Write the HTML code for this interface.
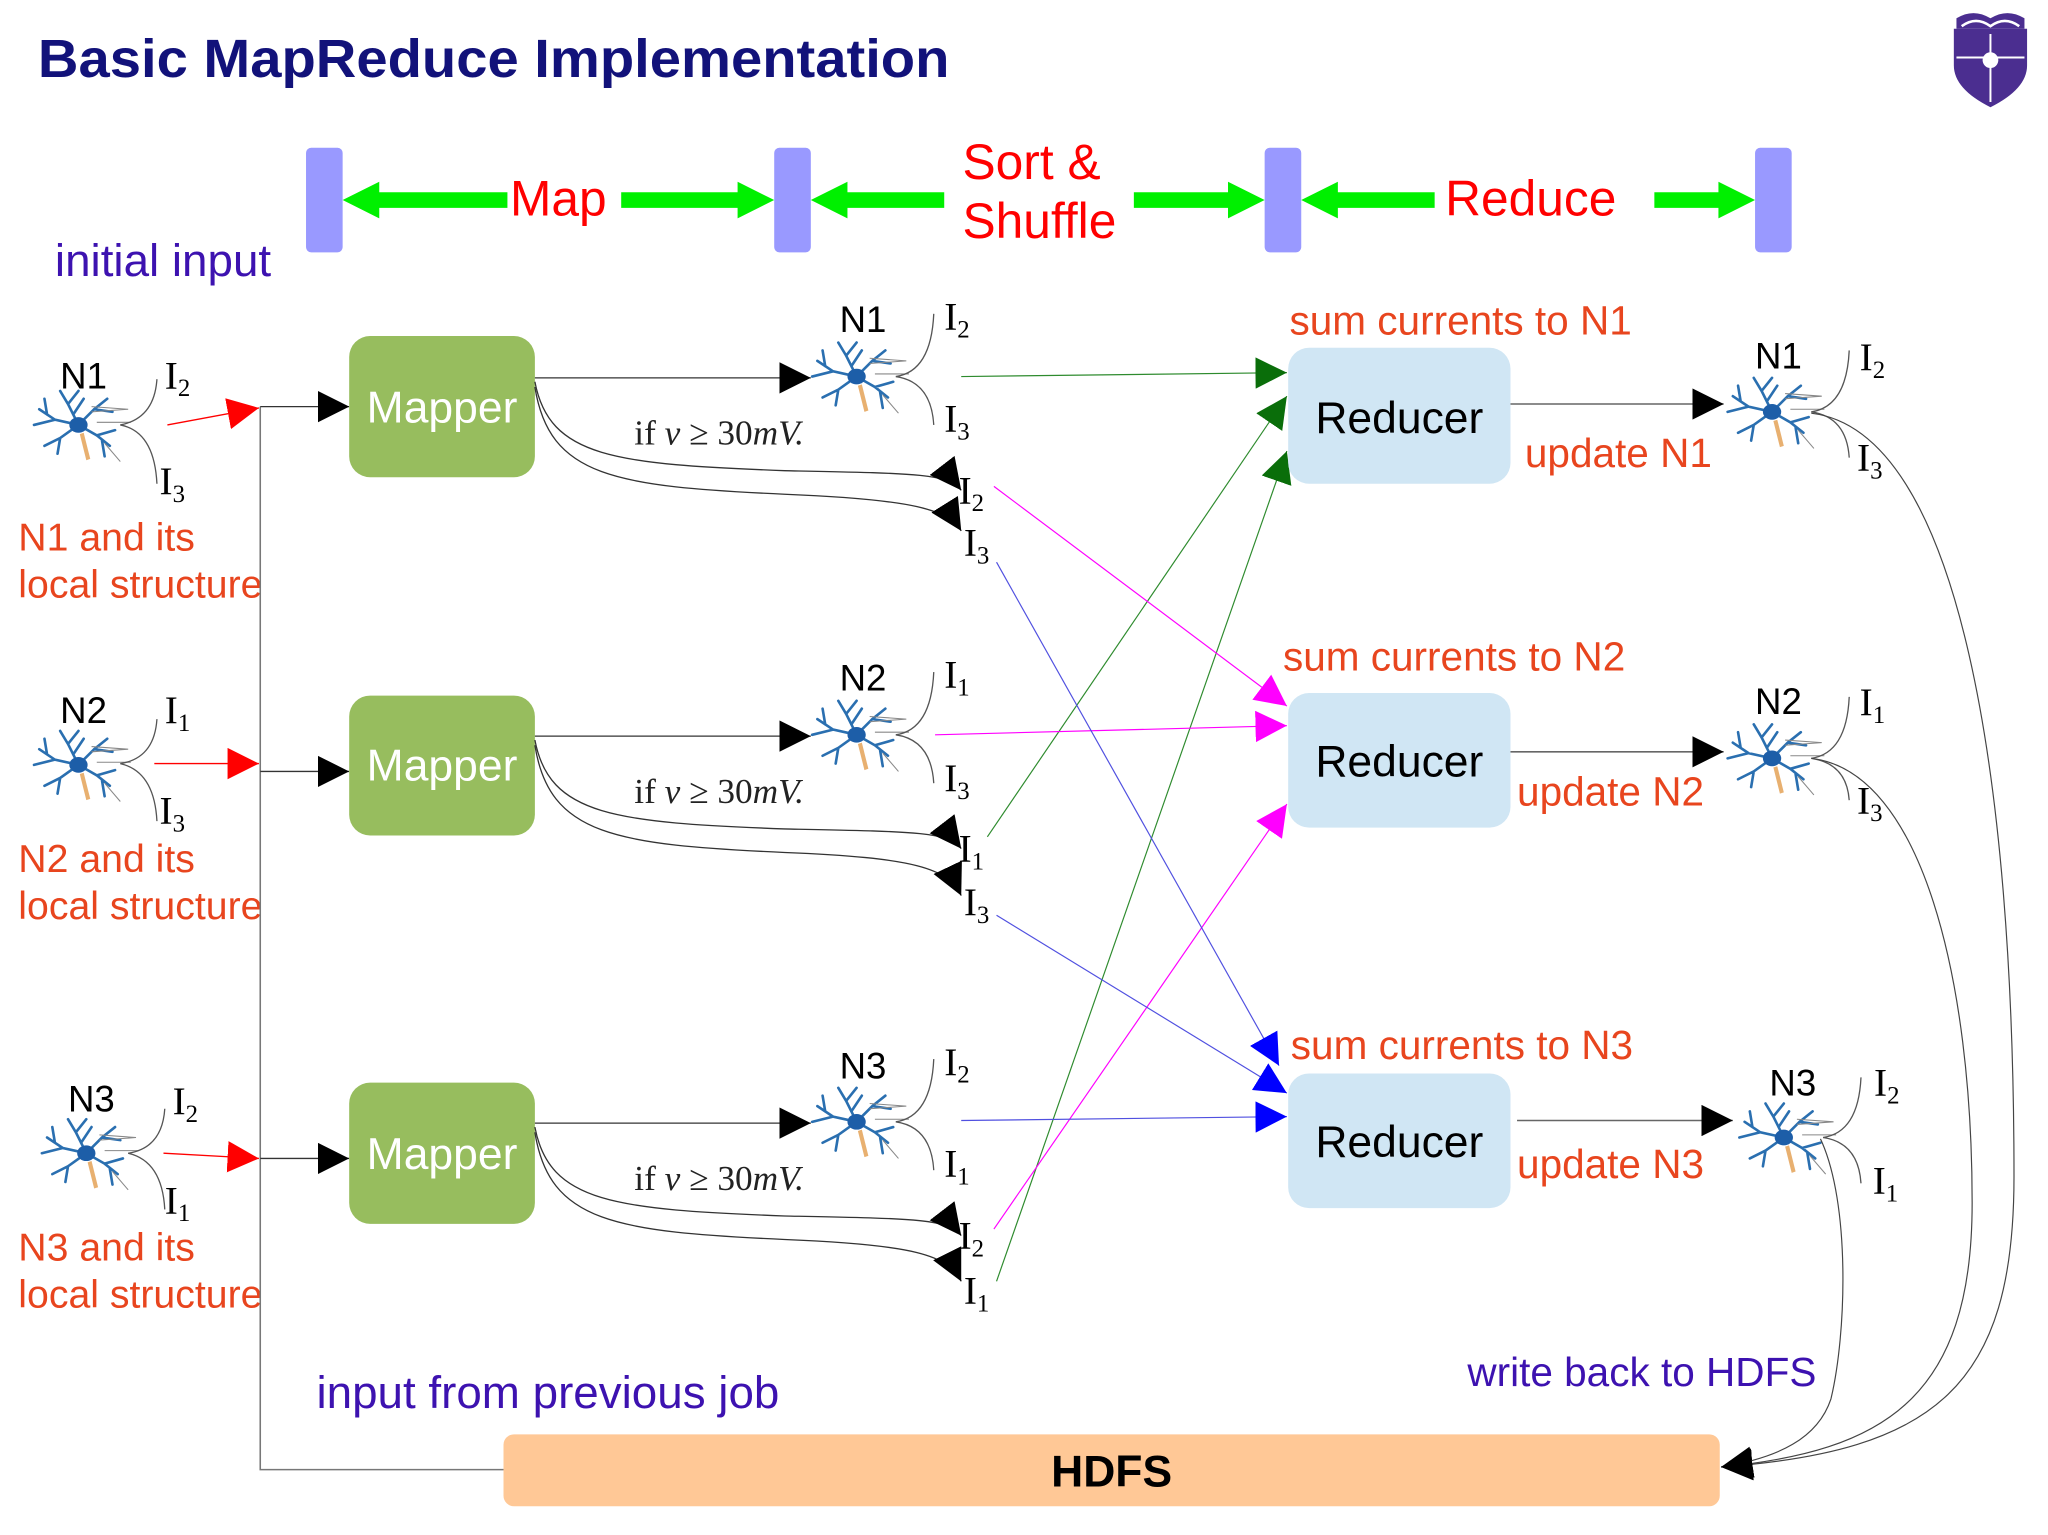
<!DOCTYPE html>
<html><head><meta charset="utf-8"><style>
html,body{margin:0;padding:0;background:#fff}
svg{display:block}
text{font-family:"Liberation Sans",sans-serif}
.ser text,text.ser{font-family:"Liberation Serif",serif}
</style></head><body>
<svg width="2048" height="1535" viewBox="0 0 1566 1174" preserveAspectRatio="none" xmlns="http://www.w3.org/2000/svg">
<defs>
<marker id="mk" viewBox="0 0 10 10" refX="10" refY="5" markerWidth="24" markerHeight="24" markerUnits="userSpaceOnUse" orient="auto"><path d="M0,0L10,5L0,10z" fill="#000"/></marker>
<marker id="mr" viewBox="0 0 10 10" refX="10" refY="5" markerWidth="24" markerHeight="24" markerUnits="userSpaceOnUse" orient="auto"><path d="M0,0L10,5L0,10z" fill="#f00"/></marker>
<marker id="mg" viewBox="0 0 10 10" refX="10" refY="5" markerWidth="24" markerHeight="24" markerUnits="userSpaceOnUse" orient="auto"><path d="M0,0L10,5L0,10z" fill="#0a6e0a"/></marker>
<marker id="mm" viewBox="0 0 10 10" refX="10" refY="5" markerWidth="24" markerHeight="24" markerUnits="userSpaceOnUse" orient="auto"><path d="M0,0L10,5L0,10z" fill="#f0f"/></marker>
<marker id="mb" viewBox="0 0 10 10" refX="10" refY="5" markerWidth="24" markerHeight="24" markerUnits="userSpaceOnUse" orient="auto"><path d="M0,0L10,5L0,10z" fill="#00f"/></marker>
<symbol id="neu" viewBox="-40 -30 80 60" overflow="visible">
<g stroke="#2a6fb0" stroke-width="2" fill="none" stroke-linecap="round">
<path d="M0,0 L-18,-4 L-30,-12 M-18,-4 L-34,0 M-24,-8 L-26,-20 M0,0 L-8,-16 L-14,-26 M-8,-16 L0,-26 M0,0 L12,-12 L22,-20 M12,-12 L26,-10 M0,0 L-14,10 L-26,16 M-14,10 L-16,22 M0,0 L14,8 L24,16 M14,8 L28,4 M18,12 L20,24 M-4,-8 L4,-20"/>
</g>
<g stroke="#888" stroke-width="0.8" fill="none"><path d="M10,-14 L38,-12 L10,-10 M14,-2 L40,-2 M20,14 L32,28"/></g>
<ellipse cx="0" cy="0" rx="7" ry="6" fill="#1d5ea8"/>
<path d="M4,6 L9,26 L6,27 L1,7z" fill="#e8b070"/>
</symbol>
</defs>

<text x="29" y="59" font-size="41" font-weight="bold" fill="#12127a" textLength="697" lengthAdjust="spacingAndGlyphs">Basic MapReduce Implementation</text>
<path d="M1494,22 L1550,22 L1550,50 Q1550,68 1522,82 Q1494,68 1494,50z" fill="#4b2e90"/>
<path d="M1496,14 Q1509,6 1522,14 Q1535,6 1548,14 L1548,22 L1496,22z" fill="#4b2e90"/>
<path d="M1500,20 Q1511,12 1522,20 Q1533,12 1544,20" stroke="#fff" stroke-width="2" fill="none"/>
<line x1="1496" y1="44" x2="1548" y2="44" stroke="#fff" stroke-width="1.5"/>
<line x1="1522" y1="26" x2="1522" y2="78" stroke="#fff" stroke-width="1.5"/>
<circle cx="1522" cy="46" r="6" fill="#fff"/>

<g fill="#9999ff">
<rect x="234" y="113" width="28" height="80" rx="4"/>
<rect x="592" y="113" width="28" height="80" rx="4"/>
<rect x="967" y="113" width="28" height="80" rx="4"/>
<rect x="1342" y="113" width="28" height="80" rx="4"/>
</g>
<g fill="#00f000">
<path d="M262,153 L290,139 L290,147 L388,147 L388,159 L290,159 L290,167z"/>
<path d="M592,153 L564,139 L564,147 L475,147 L475,159 L564,159 L564,167z"/>
<path d="M620,153 L648,139 L648,147 L722,147 L722,159 L648,159 L648,167z"/>
<path d="M967,153 L939,139 L939,147 L867,147 L867,159 L939,159 L939,167z"/>
<path d="M995,153 L1023,139 L1023,147 L1097,147 L1097,159 L1023,159 L1023,167z"/>
<path d="M1342,153 L1314,139 L1314,147 L1265,147 L1265,159 L1314,159 L1314,167z"/>
</g>
<g fill="#f00" font-size="38">
<text x="390" y="165">Map</text>
<text x="736" y="137">Sort &amp;</text>
<text x="736" y="182">Shuffle</text>
<text x="1105" y="165">Reduce</text>
</g>
<g fill="#3d12b0" font-size="35">
<text x="42" y="211">initial input</text>
<text x="242" y="1077">input from previous job</text>
<text x="1122" y="1060" font-size="31">write back to HDFS</text>
</g>

<use href="#neu" x="20" y="295" width="80" height="60"/>
<use href="#neu" x="20" y="555" width="80" height="60"/>
<use href="#neu" x="26" y="852" width="80" height="60"/>
<g font-size="28" fill="#000">
<text x="46" y="297">N1</text><text x="46" y="553">N2</text><text x="52" y="850">N3</text>
</g>
<g fill="none" stroke="#555" stroke-width="1">
<path d="M92,325 Q118,320 120,290"/><path d="M92,325 Q118,330 120,370"/>
<path d="M92,584 Q118,580 120,550"/><path d="M92,584 Q118,590 120,628"/>
<path d="M98,882 Q124,878 126,848"/><path d="M98,882 Q124,888 126,925"/>
</g>
<g class="ser" font-size="30" fill="#000">
<text x="126" y="297">I<tspan font-size="19" dy="6">2</tspan></text>
<text x="122" y="378">I<tspan font-size="19" dy="6">3</tspan></text>
<text x="126" y="553">I<tspan font-size="19" dy="6">1</tspan></text>
<text x="122" y="630">I<tspan font-size="19" dy="6">3</tspan></text>
<text x="132" y="852">I<tspan font-size="19" dy="6">2</tspan></text>
<text x="126" y="928">I<tspan font-size="19" dy="6">1</tspan></text>
</g>
<g fill="#e8451e" font-size="30">
<text x="14" y="421">N1 and its</text><text x="14" y="457">local structure</text>
<text x="14" y="667">N2 and its</text><text x="14" y="703">local structure</text>
<text x="14" y="964">N3 and its</text><text x="14" y="1000">local structure</text>
</g>
<g stroke="#f00" stroke-width="1">
<line x1="128" y1="325" x2="198" y2="312" marker-end="url(#mr)"/>
<line x1="118" y1="584" x2="198" y2="584" marker-end="url(#mr)"/>
<line x1="125" y1="882" x2="198" y2="886" marker-end="url(#mr)"/>
</g>
<path d="M199,311 L199,1124 L385,1124" stroke="#777" stroke-width="1.2" fill="none"/>
<g stroke="#333" stroke-width="1">
<line x1="199" y1="311" x2="267" y2="311" marker-end="url(#mk)"/>
<line x1="199" y1="590" x2="267" y2="590" marker-end="url(#mk)"/>
<line x1="199" y1="886" x2="267" y2="886" marker-end="url(#mk)"/>
</g>

<g fill="#97bd5e">
<rect x="267" y="257" width="142" height="108" rx="16"/>
<rect x="267" y="532" width="142" height="107" rx="16"/>
<rect x="267" y="828" width="142" height="108" rx="16"/>
</g>
<g fill="#fff" font-size="34" text-anchor="middle">
<text x="338" y="323">Mapper</text><text x="338" y="597">Mapper</text><text x="338" y="894">Mapper</text>
</g>

<g stroke="#333" stroke-width="1" fill="none">
<line x1="409" y1="289" x2="620" y2="289" marker-end="url(#mk)"/>
<path d="M409,292 C420,350 470,355 600,360 C700,362 725,362 735,375" marker-end="url(#mk)"/>
<path d="M409,296 C420,365 470,372 600,378 C700,382 725,390 735,406" marker-end="url(#mk)"/>
<line x1="409" y1="563" x2="620" y2="563" marker-end="url(#mk)"/>
<path d="M409,566 C420,624 470,629 600,634 C700,636 725,636 735,649" marker-end="url(#mk)"/>
<path d="M409,570 C420,639 470,646 600,652 C700,656 725,664 735,685" marker-end="url(#mk)"/>
<line x1="409" y1="859" x2="620" y2="859" marker-end="url(#mk)"/>
<path d="M409,862 C420,920 470,925 600,930 C700,932 725,932 735,945" marker-end="url(#mk)"/>
<path d="M409,866 C420,935 470,942 600,948 C700,952 725,960 735,980" marker-end="url(#mk)"/>
</g>
<g class="ser" font-size="27" fill="#222" font-style="italic">
<text x="485" y="340"><tspan font-style="normal">if</tspan> v ≥ <tspan font-style="normal">30</tspan>mV.</text>
<text x="485" y="614"><tspan font-style="normal">if</tspan> v ≥ <tspan font-style="normal">30</tspan>mV.</text>
<text x="485" y="910"><tspan font-style="normal">if</tspan> v ≥ <tspan font-style="normal">30</tspan>mV.</text>
</g>

<use href="#neu" x="615" y="258" width="80" height="60"/>
<use href="#neu" x="615" y="532" width="80" height="60"/>
<use href="#neu" x="615" y="828" width="80" height="60"/>
<g font-size="28" fill="#000">
<text x="642" y="254">N1</text><text x="642" y="528">N2</text><text x="642" y="825">N3</text>
</g>
<g fill="none" stroke="#555" stroke-width="1">
<path d="M685,288 Q712,284 714,240"/><path d="M685,288 Q712,292 714,325"/>
<path d="M685,562 Q712,558 714,514"/><path d="M685,562 Q712,566 714,599"/>
<path d="M685,858 Q712,854 714,810"/><path d="M685,858 Q712,862 714,895"/>
</g>
<g class="ser" font-size="30" fill="#000">
<text x="722" y="252">I<tspan font-size="19" dy="6">2</tspan></text>
<text x="722" y="330">I<tspan font-size="19" dy="6">3</tspan></text>
<text x="733" y="385">I<tspan font-size="19" dy="6">2</tspan></text>
<text x="737" y="425">I<tspan font-size="19" dy="6">3</tspan></text>
<text x="722" y="526">I<tspan font-size="19" dy="6">1</tspan></text>
<text x="722" y="605">I<tspan font-size="19" dy="6">3</tspan></text>
<text x="733" y="659">I<tspan font-size="19" dy="6">1</tspan></text>
<text x="737" y="700">I<tspan font-size="19" dy="6">3</tspan></text>
<text x="722" y="822">I<tspan font-size="19" dy="6">2</tspan></text>
<text x="722" y="900">I<tspan font-size="19" dy="6">1</tspan></text>
<text x="733" y="955">I<tspan font-size="19" dy="6">2</tspan></text>
<text x="737" y="997">I<tspan font-size="19" dy="6">1</tspan></text>
</g>

<g stroke-width="0.9" fill="none">
<line x1="735" y1="288" x2="984" y2="285" stroke="#2e8b2e" marker-end="url(#mg)"/>
<line x1="755" y1="640" x2="984" y2="303" stroke="#2e8b2e" marker-end="url(#mg)"/>
<line x1="762" y1="980" x2="984" y2="345" stroke="#2e8b2e" marker-end="url(#mg)"/>
<line x1="760" y1="372" x2="984" y2="540" stroke="#f0f" marker-end="url(#mm)"/>
<line x1="715" y1="562" x2="984" y2="555" stroke="#f0f" marker-end="url(#mm)"/>
<line x1="760" y1="940" x2="984" y2="615" stroke="#f0f" marker-end="url(#mm)"/>
<line x1="762" y1="430" x2="978" y2="815" stroke="#5050e0" marker-end="url(#mb)"/>
<line x1="762" y1="700" x2="984" y2="836" stroke="#5050e0" marker-end="url(#mb)"/>
<line x1="735" y1="857" x2="984" y2="854" stroke="#5050e0" marker-end="url(#mb)"/>
</g>

<g fill="#d0e6f4">
<rect x="985" y="266" width="170" height="104" rx="16"/>
<rect x="985" y="530" width="170" height="103" rx="16"/>
<rect x="985" y="821" width="170" height="103" rx="16"/>
</g>
<g fill="#000" font-size="34" text-anchor="middle">
<text x="1070" y="331">Reducer</text><text x="1070" y="594">Reducer</text><text x="1070" y="885">Reducer</text>
</g>
<g fill="#e8451e" font-size="31">
<text x="986" y="256">sum currents to N1</text>
<text x="981" y="513">sum currents to N2</text>
<text x="987" y="810">sum currents to N3</text>
<text x="1166" y="357">update N1</text>
<text x="1160" y="616">update N2</text>
<text x="1160" y="901">update N3</text>
</g>
<g stroke="#666" stroke-width="1.2">
<line x1="1155" y1="309" x2="1318" y2="309" marker-end="url(#mk)"/>
<line x1="1155" y1="575" x2="1318" y2="575" marker-end="url(#mk)"/>
<line x1="1160" y1="857" x2="1325" y2="857" marker-end="url(#mk)"/>
</g>

<use href="#neu" x="1315" y="285" width="80" height="60"/>
<use href="#neu" x="1315" y="550" width="80" height="60"/>
<use href="#neu" x="1324" y="840" width="80" height="60"/>
<g font-size="28" fill="#000">
<text x="1342" y="282">N1</text><text x="1342" y="546">N2</text><text x="1353" y="838">N3</text>
</g>
<g fill="none" stroke="#555" stroke-width="1">
<path d="M1385,315 Q1412,311 1414,268"/><path d="M1385,315 Q1412,319 1414,350"/>
<path d="M1385,580 Q1412,576 1414,533"/><path d="M1385,580 Q1412,584 1414,612"/>
<path d="M1394,870 Q1421,866 1423,824"/><path d="M1394,870 Q1421,874 1423,905"/>
</g>
<g class="ser" font-size="30" fill="#000">
<text x="1422" y="283">I<tspan font-size="19" dy="6">2</tspan></text>
<text x="1420" y="360">I<tspan font-size="19" dy="6">3</tspan></text>
<text x="1422" y="547">I<tspan font-size="19" dy="6">1</tspan></text>
<text x="1420" y="622">I<tspan font-size="19" dy="6">3</tspan></text>
<text x="1433" y="838">I<tspan font-size="19" dy="6">2</tspan></text>
<text x="1432" y="913">I<tspan font-size="19" dy="6">1</tspan></text>
</g>

<g stroke="#444" stroke-width="0.9" fill="none">
<path d="M1385,316 C1500,330 1540,600 1540,900 C1540,1060 1480,1110 1316,1122" marker-end="url(#mk)"/>
<path d="M1385,580 C1470,590 1508,750 1508,920 C1508,1070 1440,1110 1316,1122" marker-end="url(#mk)"/>
<path d="M1392,871 C1415,920 1412,1020 1400,1070 C1390,1100 1360,1115 1316,1122" marker-end="url(#mk)"/>
</g>

<rect x="385" y="1097" width="930" height="55" rx="8" fill="#ffc896"/>
<text x="850" y="1137" font-size="34" font-weight="bold" text-anchor="middle" fill="#000">HDFS</text>
</svg>
</body></html>
